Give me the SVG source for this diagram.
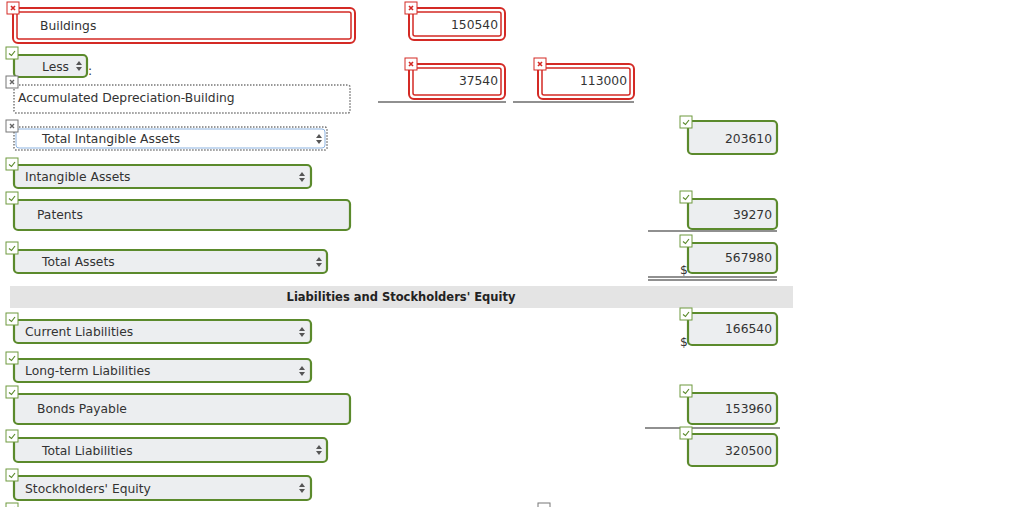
<svg xmlns="http://www.w3.org/2000/svg" width="1024" height="507" viewBox="0 0 1024 507">
<style>
text{font-family:"DejaVu Sans",Verdana,sans-serif;font-size:12.3px;fill:#333}
.g{fill:#eceef0;stroke:#5b8a2c;stroke-width:2.2}
.ro{fill:none;stroke:#d42a25;stroke-width:2}
.ri{fill:#fff;stroke:#d42a25;stroke-width:1.5}
.d{fill:#fff;stroke:#777;stroke-width:1.5;stroke-dasharray:1.5 1.5}
.num{text-anchor:end}
.ln{stroke:#222;stroke-width:1.2}
.ig{fill:#fff;stroke:#6f9a3e;stroke-width:1}
.ir{fill:#fff;stroke:#d42a25;stroke-width:1}
.ix{fill:#fff;stroke:#777;stroke-width:1}
.ck{fill:none;stroke:#5b8a2c;stroke-width:1.2}
.xr{stroke:#d42a25;stroke-width:1.6}
.xg{stroke:#666;stroke-width:1.4}
.sp{fill:#555}
</style>
<defs>
<g id="ok"><rect class="ig" x="0" y="0" width="12" height="12"/><path class="ck" d="M3 6.5 L5.5 8.5 L9 4"/></g>
<g id="bad"><rect class="ir" x="0" y="0" width="12" height="12"/><path class="xr" d="M4 4 L8 8 M8 4 L4 8"/></g>
<g id="gx"><rect class="ix" x="0" y="0" width="12" height="12"/><path class="xg" d="M4 4 L8 8 M8 4 L4 8"/></g>
<g id="spin"><path class="sp" d="M-3 -1 L0 -5 L3 -1 Z M-3 1 L0 5 L3 1 Z"/></g>
</defs>
<rect width="1024" height="507" fill="#fff"/>
<g id="connectors">
<line class="ln" x1="378" y1="102" x2="506" y2="102"/>
<line class="ln" x1="513" y1="102" x2="634" y2="102"/>
<line class="ln" x1="648" y1="231" x2="777" y2="231"/>
<line class="ln" x1="648" y1="277" x2="777" y2="277"/>
<line class="ln" x1="648" y1="280" x2="777" y2="280"/>
<line class="ln" x1="645" y1="428" x2="780" y2="428"/>
</g>
<g id="buildings"><rect class="ro" x="13" y="8" width="342" height="35" rx="5"/><rect class="ri" x="17" y="12" width="334" height="27" rx="2"/><text x="40" y="30">Buildings</text><use href="#bad" x="7" y="2"/></g>
<g id="v150540"><rect class="ro" x="409" y="8" width="96" height="32" rx="5"/><rect class="ri" x="413" y="12" width="88" height="24" rx="2"/><text class="num" x="498" y="29">150540</text><use href="#bad" x="405" y="2"/></g>
<g id="less"><rect class="g" x="14" y="55" width="73" height="22" rx="4"/><text x="42" y="71">Less</text><use href="#spin" x="79" y="66"/><text x="88" y="75">:</text><use href="#ok" x="6" y="47"/></g>
<g id="accum"><rect class="d" x="14" y="85" width="336" height="28" rx="2"/><text x="18" y="102">Accumulated Depreciation-Building</text><use href="#gx" x="6" y="76"/></g>
<g id="v37540"><rect class="ro" x="409" y="64" width="96" height="35" rx="5"/><rect class="ri" x="413" y="68" width="88" height="27" rx="2"/><text class="num" x="498" y="85">37540</text><use href="#bad" x="405" y="58"/></g>
<g id="v113000"><rect class="ro" x="538" y="64" width="96" height="35" rx="5"/><rect class="ri" x="542" y="68" width="88" height="27" rx="2"/><text class="num" x="627" y="85">113000</text><use href="#bad" x="534" y="58"/></g>
<g id="totintang"><rect x="14" y="127" width="313" height="23" rx="2" fill="#fff" stroke="#777" stroke-width="1.5" stroke-dasharray="1.5 1.5"/><rect x="16" y="129" width="309" height="19" rx="3" fill="none" stroke="#8db4e2" stroke-width="1"/><text x="42" y="143">Total Intangible Assets</text><use href="#spin" x="319" y="139"/><use href="#gx" x="6" y="120"/></g>
<g id="v203610"><rect class="g" x="688" y="121" width="89" height="33" rx="4"/><text class="num" x="772" y="143">203610</text><use href="#ok" x="680" y="116"/></g>
<g id="intang"><rect class="g" x="14" y="165" width="297" height="23" rx="4"/><text x="25" y="181">Intangible Assets</text><use href="#spin" x="302" y="177"/><use href="#ok" x="6" y="158"/></g>
<g id="patents"><rect class="g" x="14" y="200" width="336" height="30" rx="4"/><text x="37" y="219">Patents</text><use href="#ok" x="6" y="192"/></g>
<g id="v39270"><rect class="g" x="688" y="199" width="89" height="30" rx="4"/><text class="num" x="772" y="219">39270</text><use href="#ok" x="680" y="191"/></g>
<g id="totassets"><rect class="g" x="14" y="250" width="313" height="23" rx="4"/><text x="42" y="266">Total Assets</text><use href="#spin" x="319" y="262"/><use href="#ok" x="6" y="242"/></g>
<g id="v567980"><rect class="g" x="688" y="243" width="89" height="30" rx="4"/><text class="num" x="772" y="262">567980</text><text x="680" y="274">$</text><use href="#ok" x="680" y="235"/></g>
<g id="band"><rect x="10" y="286" width="783" height="22" fill="#e4e4e4"/><text x="401" y="301" text-anchor="middle" font-weight="bold" style="font-size:11.5px;fill:#222">Liabilities and Stockholders' Equity</text></g>
<g id="curliab"><rect class="g" x="14" y="320" width="297" height="23" rx="4"/><text x="25" y="336">Current Liabilities</text><use href="#spin" x="302" y="332"/><use href="#ok" x="6" y="313"/></g>
<g id="v166540"><rect class="g" x="688" y="313" width="89" height="32" rx="4"/><text class="num" x="772" y="333">166540</text><text x="680" y="346">$</text><use href="#ok" x="680" y="308"/></g>
<g id="ltliab"><rect class="g" x="14" y="359" width="297" height="23" rx="4"/><text x="25" y="375">Long-term Liabilities</text><use href="#spin" x="302" y="371"/><use href="#ok" x="6" y="352"/></g>
<g id="bonds"><rect class="g" x="14" y="394" width="336" height="30" rx="4"/><text x="37" y="413">Bonds Payable</text><use href="#ok" x="6" y="386"/></g>
<g id="v153960"><rect class="g" x="688" y="393" width="89" height="31" rx="4"/><text class="num" x="772" y="413">153960</text><use href="#ok" x="680" y="385"/></g>
<g id="totliab"><rect class="g" x="14" y="438" width="313" height="24" rx="4"/><text x="42" y="455">Total Liabilities</text><use href="#spin" x="319" y="450"/><use href="#ok" x="6" y="430"/></g>
<g id="v320500"><rect class="g" x="688" y="434" width="89" height="32" rx="4"/><text class="num" x="772" y="455">320500</text><use href="#ok" x="680" y="427"/></g>
<g id="equity"><rect class="g" x="14" y="476" width="297" height="24" rx="4"/><text x="25" y="493">Stockholders' Equity</text><use href="#spin" x="302" y="488"/><use href="#ok" x="6" y="469"/></g>
<g id="bottom"><use href="#ok" x="6" y="503"/><rect class="ix" x="538" y="503" width="12" height="12"/></g>
</svg>
